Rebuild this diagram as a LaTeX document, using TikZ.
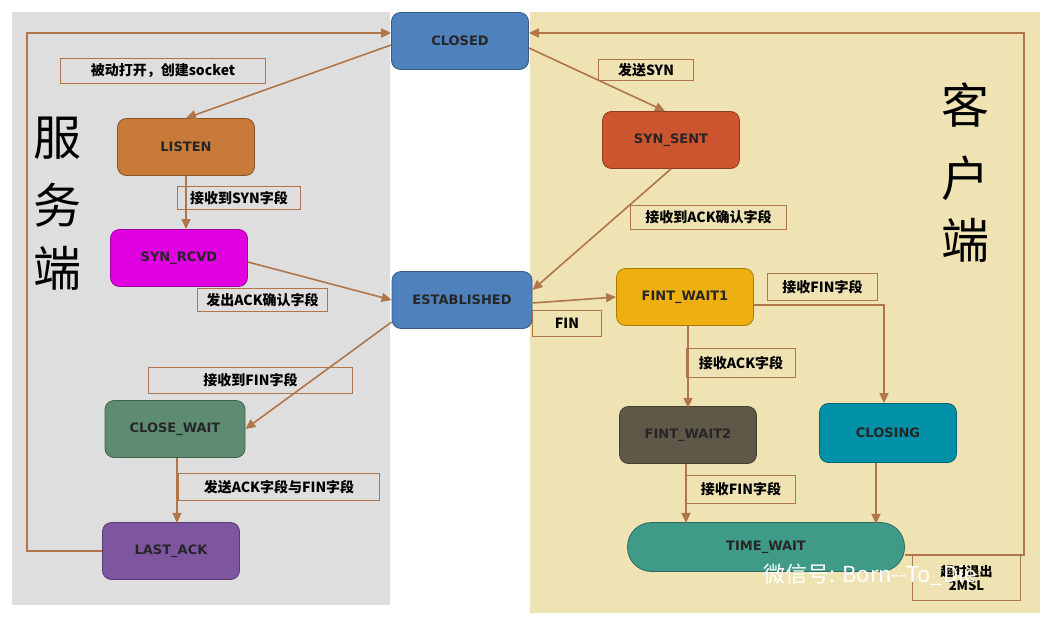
\documentclass[tikz,border=0pt]{standalone}
\usepackage{fontspec}
\setmainfont{DejaVu Sans}
\newfontfamily\cjk{Noto Sans CJK SC}
\usetikzlibrary{arrows.meta}
\definecolor{brn}{HTML}{B07548}
\begin{document}
\begin{tikzpicture}[x=1pt,y=-1pt,
 st/.style={draw=#1!70!black,fill=#1,rounded corners=9pt,minimum width=137pt,minimum height=57pt,font=\rmfamily\bfseries\fontsize{13}{15}\selectfont,text=black!85,line width=0.8pt},
 lb/.style={draw=brn,line width=1pt,inner sep=3pt,font=\cjk\bfseries\fontsize{14}{16}\selectfont,anchor=north west},
 ar/.style={draw=brn,line width=1.6pt,-{Triangle[length=10pt,width=9pt]}},
 big/.style={font=\cjk\fontsize{48}{52}\selectfont}]
\useasboundingbox (0,0) rectangle (1048,623);
\fill[white] (0,0) rectangle (1048,623);
\fill[black!13] (12,12) rectangle (390,605);
\definecolor{cBg}{HTML}{EFE3B3}
\fill[cBg] (530,12) rectangle (1040,613);
\definecolor{cBlue}{HTML}{4F81BD}
\definecolor{cListen}{HTML}{C87A38}
\definecolor{cMag}{HTML}{E000E0}
\definecolor{cSyn}{HTML}{CC5530}
\definecolor{cGold}{HTML}{EEB010}
\definecolor{cFw2}{HTML}{5F5848}
\definecolor{cClosing}{HTML}{0090A8}
\definecolor{cTw}{HTML}{3F9A87}
\definecolor{cCw}{HTML}{5E8C73}
\definecolor{cLa}{HTML}{7E56A0}
\node[st=cBlue] (closed) at (460,41) {CLOSED};
\node[st=cListen] (listen) at (186,147) {LISTEN};
\node[st=cMag] (rcvd) at (179,258) {SYN\_RCVD};
\node[st=cBlue,minimum width=140pt] (est) at (462,300) {ESTABLISHED};
\node[st=cSyn] (sent) at (671,140) {SYN\_SENT};
\node[st=cGold] (fw1) at (685,297) {FINT\_WAIT1};
\node[st=cFw2] (fw2) at (688,435) {FINT\_WAIT2};
\node[st=cClosing,minimum height=59pt] (closing) at (888,433) {CLOSING};
\node[st=cTw,rounded corners=24pt,minimum width=277pt,minimum height=49pt] (tw) at (766,547) {TIME\_WAIT};
\node[st=cCw,minimum width=140pt] (cw) at (175,429) {CLOSE\_WAIT};
\node[st=cLa] (la) at (171,551) {LAST\_ACK};
\node[big] (s1) at (57,138) {服};
\node[big] (s2) at (57,205) {务};
\node[big] (s3) at (57,268) {端};
\node[big] (c1) at (965,105) {客};
\node[big] (c2) at (965,178) {户};
\node[big] (c3) at (965,240) {端};
% labels
\node[lb,minimum width=205pt,minimum height=25pt] (l1) at (60,58) {被动打开，创建socket};
\node[lb,minimum width=123pt,minimum height=23pt] (l2) at (177,186) {接收到SYN字段};
\node[lb,minimum width=130pt,minimum height=23pt] (l3) at (197,288) {发出ACK确认字段};
\node[lb,minimum width=95pt,minimum height=21pt] (l4) at (598,59) {发送SYN};
\node[lb,minimum width=156pt,minimum height=24pt] (l5) at (630,205) {接收到ACK确认字段};
\node[lb,minimum width=69pt,minimum height=26pt] (l6) at (532,310) {FIN};
\node[lb,minimum width=110pt,minimum height=27pt] (l7) at (767,273) {接收FIN字段};
\node[lb,minimum width=109pt,minimum height=29pt] (l8) at (686,348) {接收ACK字段};
\node[lb,minimum width=204pt,minimum height=26pt] (l9) at (148,367) {接收到FIN字段};
\node[lb,minimum width=201pt,minimum height=27pt] (l10) at (178,473) {发送ACK字段与FIN字段};
\node[lb,minimum width=109pt,minimum height=28pt] (l11) at (686,475) {接收FIN字段};
\node[lb,minimum width=108pt,minimum height=45pt,align=center,font=\cjk\bfseries\fontsize{13}{14}\selectfont] (l12) at (912,555) {超时退出\\2MSL};
% connectors
\coordinate (a1) at (27,551); \coordinate (a2) at (27,33);
\draw[ar] (la.west) -- (a1) -- (a2) -- (closed.west|-a2);
\draw[ar] (closed.west) ++(0,4) -- (listen.north);
\draw[ar] (listen.south) -- (rcvd.north-|listen.south);
\draw[ar] (rcvd.east) ++(0,4) -- (est.west);
\draw[ar] (closed.east) ++(0,7) -- ([xshift=-6pt]sent.north);
\draw[ar] (sent.south) -- ([yshift=10pt]est.east);
\draw[ar] ([yshift=-3pt]est.east) -- (fw1.west);
\draw[ar] ([yshift=-22pt]est.west) -- (cw.east);
\draw[ar] (cw.south) ++(2,0) -- ++(0,65);
\coordinate (b1) at (884,305);
\draw[ar] ([yshift=-8pt]fw1.east) -- (b1) -- (closing.north-|b1);
\draw[ar] (fw1.south) ++(3,0) -- ++(0,82);
\draw[ar] (fw2.south) ++(-2,0) -- ++(0,59);
\draw[ar] (closing.south) ++(-12,0) -- ++(0,61);
\coordinate (c1) at (1024,555); \coordinate (c2) at (1024,33);
\draw[ar] ([yshift=-8pt]tw.east) -- (c1) -- (c2) -- (closed.east|-c2);
\node[text=white,font=\cjk\fontsize{22}{24}\selectfont,anchor=west] (wm) at (760,575) {微信号: Born--To\_Die};
\end{tikzpicture}
\end{document}
